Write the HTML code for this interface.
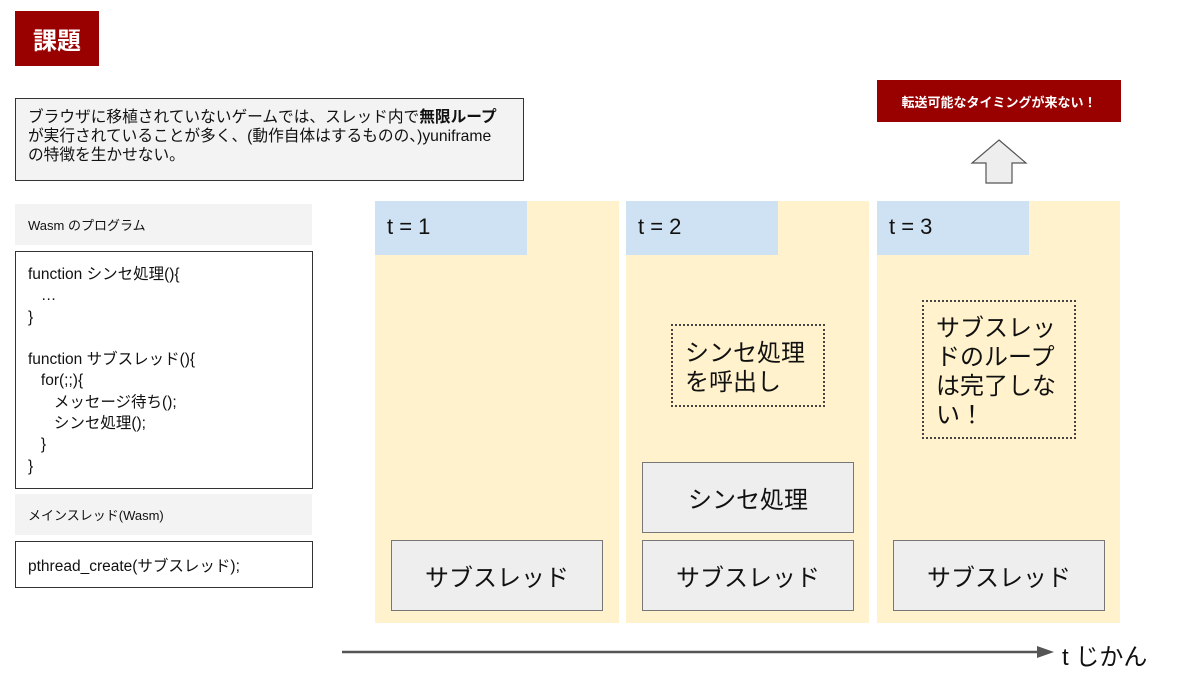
<!DOCTYPE html>
<html><head><meta charset="utf-8"><style>
*{margin:0;padding:0;box-sizing:border-box}
body{width:1200px;height:696px;background:#fff;position:relative;overflow:hidden;font-family:"Liberation Sans","Noto Sans CJK JP",sans-serif;color:#111}
.a{position:absolute}
.col{background:#fff2cc}
.t{background:#cfe2f3;font-size:22px;padding:13px 0 0 12px}
.g{background:#eeeeee;border:1.5px solid #777;display:flex;align-items:center;justify-content:center;font-size:24px}
.dot{border:2px dotted #444;font-size:24px;line-height:29px}
.lab{background:#f3f3f3;font-size:13px;padding-left:13px;display:flex;align-items:center}
.box{border:1.5px solid #333;background:#fff}
</style></head><body>
<div class="a" style="left:15px;top:11px;width:84px;height:55px;background:#990000;color:#fff;font-weight:bold;font-size:24px;display:flex;align-items:center;justify-content:center">課題</div>
<div class="a" style="left:15px;top:98px;width:509px;height:83px;background:#f3f3f3;border:1.5px solid #333;font-size:15.7px;line-height:19px;padding:9px 0 0 12px;white-space:nowrap">ブラウザに移植されていないゲームでは、スレッド内で<b>無限ループ</b><br>が実行されていることが多く、(動作自体はするものの、)yuniframe<br>の特徴を生かせない。</div>
<div class="a lab" style="left:15px;top:204px;width:297px;height:41px">Wasm のプログラム</div>
<div class="a box" style="left:15px;top:251px;width:298px;height:238px;font-size:15.5px;line-height:21.3px;padding:12px 0 0 12px;white-space:pre">function シンセ処理(){
   …
}

function サブスレッド(){
   for(;;){
      メッセージ待ち();
      シンセ処理();
   }
}</div>
<div class="a lab" style="left:15px;top:494px;width:297px;height:41px">メインスレッド(Wasm)</div>
<div class="a box" style="left:15px;top:541px;width:298px;height:47px;font-size:15.5px;padding:12px 0 0 12px">pthread_create(サブスレッド);</div>

<div class="a col" style="left:375px;top:201px;width:244px;height:422px"></div>
<div class="a col" style="left:626px;top:201px;width:243px;height:422px"></div>
<div class="a col" style="left:877px;top:201px;width:243px;height:422px"></div>
<div class="a t" style="left:375px;top:201px;width:152px;height:54px">t = 1</div>
<div class="a t" style="left:626px;top:201px;width:152px;height:54px">t = 2</div>
<div class="a t" style="left:877px;top:201px;width:152px;height:54px">t = 3</div>
<div class="a g" style="left:391px;top:540px;width:212px;height:71px">サブスレッド</div>
<div class="a g" style="left:642px;top:540px;width:212px;height:71px">サブスレッド</div>
<div class="a g" style="left:893px;top:540px;width:212px;height:71px">サブスレッド</div>
<div class="a g" style="left:642px;top:462px;width:212px;height:71px">シンセ処理</div>
<div class="a dot" style="left:671px;top:324px;width:154px;height:83px;padding:13px 0 0 12px">シンセ処理<br>を呼出し</div>
<div class="a dot" style="left:922px;top:300px;width:154px;height:139px;padding:12px 0 0 12px">サブスレッ<br>ドのループ<br>は完了しな<br>い！</div>

<div class="a" style="left:877px;top:80px;width:244px;height:42px;background:#990000;color:#fff;font-weight:bold;font-size:13px;display:flex;align-items:center;justify-content:center">転送可能なタイミングが来ない！</div>
<svg class="a" style="left:0;top:0" width="1200" height="696">
<polygon points="999,140 1026,163 1012,163 1012,183 986,183 986,163 972,163" fill="#eeeeee" stroke="#555" stroke-width="1.2"/>
<line x1="342" y1="652" x2="1040" y2="652" stroke="#555" stroke-width="2.5"/>
<polygon points="1054,652 1037,646 1037,658" fill="#555"/>
</svg>
<div class="a" style="left:1062px;top:637px;font-size:24px">t じかん</div>
</body></html>
